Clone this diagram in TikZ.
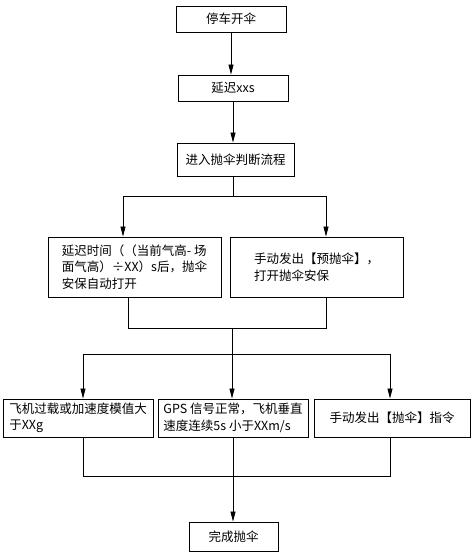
\documentclass[tikz,border=0pt]{standalone}
\usepackage{fontspec}
\usepackage{tikz}
\usetikzlibrary{arrows.meta}
\newfontfamily\cjk{Noto Sans CJK SC}

\begin{document}
\begin{tikzpicture}[x=1pt,y=-1pt,
        box/.style={draw,line width=0.9pt,inner sep=2pt,align=left,
            font=\cjk\fontsize{12.5}{16.5}\selectfont},
        arr/.style={line width=0.8pt,-{Triangle[length=10pt,width=5pt]}},
        ln/.style={line width=0.8pt}]
        \useasboundingbox (0,0) rectangle (474,556);
        % boxes
        \node [box,minimum width=110pt,minimum height=26pt] (stop) at (231,19) {停车开伞};
        \node [box,minimum width=110pt,minimum height=26pt] (delay) at (233,88) {延迟xxs};
        \node [box,minimum width=117pt,minimum height=33pt] (judge) at (235.5,159.5) {进入抛伞判断流程};
        \node [box,minimum width=173pt,minimum height=60pt] (auto) at (134.5,267)
            {延迟时间（（当前气高- 场\\面气高）÷XX）s后，抛伞\\安保自动打开};
        \node [box,minimum width=173pt,minimum height=60pt] (pre) at (316.5,267)
            {手动发出【预抛伞】，\\打开抛伞安保};
        \node [box,minimum width=150pt,minimum height=38pt] (load) at (78,418)
            {飞机过载或加速度模值大\\于XXg};
        \node [box,minimum width=150pt,minimum height=38pt] (gps) at (233,418)
            {GPS 信号正常，飞机垂直\\速度连续5s 小于XXm/s};
        \node [box,minimum width=156pt,minimum height=38pt] (hand) at (392,418)
            {手动发出【抛伞】指令};
        \node [box,minimum width=89pt,minimum height=29pt] (done) at (233.5,536.5) {完成抛伞};
        % branch points
        \coordinate (s1) at (233,196);
        \coordinate (b4) at (123,196);
        \coordinate (b5) at (326,196);
        \coordinate (m4) at (128,328);
        \coordinate (m5) at (326,328);
        \coordinate (s2) at (232,354);
        \coordinate (b6) at (83,354);
        \coordinate (b8) at (390,354);
        \coordinate (m6) at (83,476);
        \coordinate (m8) at (390,476);
        % connectors
        \draw [arr] (stop.south) -- (stop.south |- delay.north);
        \draw [arr] (delay.south) -- (delay.south |- judge.north);
        \draw [ln] (judge.south -| s1) -- (s1);
        \draw [arr] (b4) -- (b5) (b4) -- (b4 |- auto.north);
        \draw [arr] (b5) -- (b5 |- pre.north);
        \draw [ln] (m4 |- auto.south) -- (m4) -- (m5) -- (m5 |- pre.south);
        \draw [ln] (s2 |- m4) -- (s2);
        \draw [ln] (b6) -- (b8);
        \draw [arr] (b6) -- (b6 |- load.north);
        \draw [arr] (s2) -- (s2 |- gps.north);
        \draw [arr] (b8) -- (b8 |- hand.north);
        \draw [ln] (m6 |- load.south) -- (m6) -- (m8) -- (m8 |- hand.south);
        \draw [arr] (gps.south) -- (gps.south |- done.north);
    \end{tikzpicture}
\end{document}
